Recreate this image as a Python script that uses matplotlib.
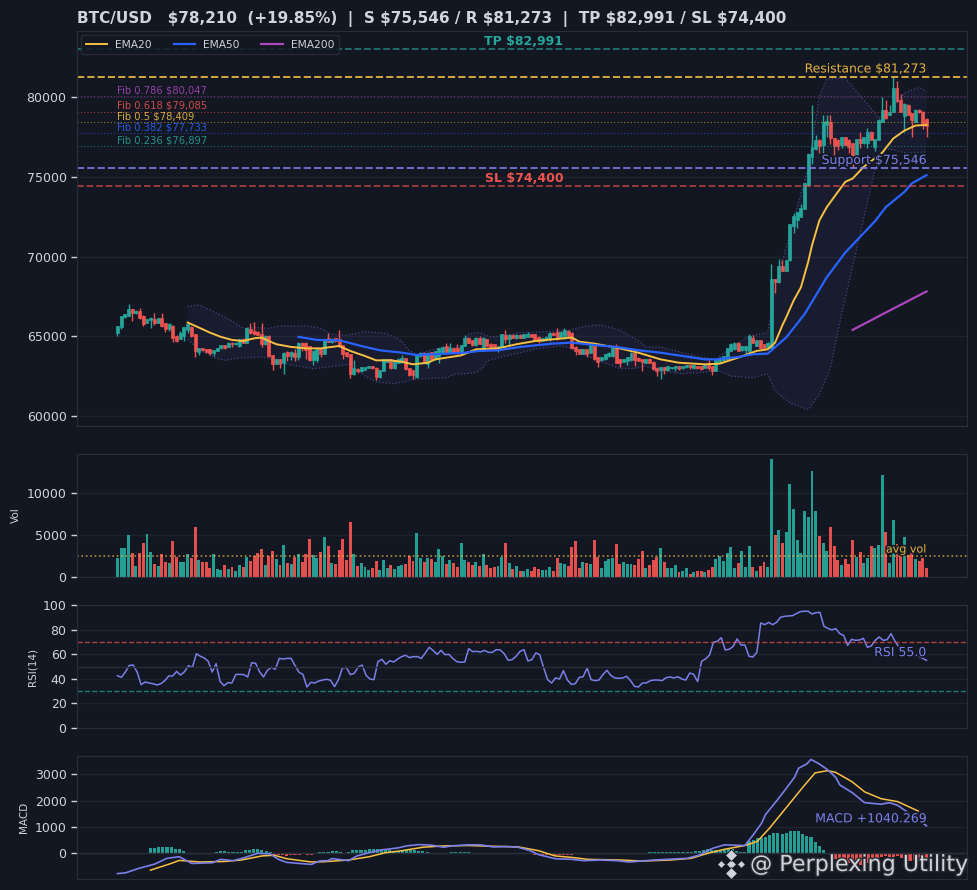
import numpy as np
import matplotlib
matplotlib.use("Agg")
import matplotlib.pyplot as plt
import matplotlib.patheffects as pe
from matplotlib.lines import Line2D

# Candles
opens = [65230,65550,66180,66300,66700,66430,66600,66300,65820,66000,
    66070,65860,66130,65800,65440,65650,65020,64850,65020,65380,
    65590,65130,64030,64240,64180,64180,63970,64080,64240,64430,
    64330,64600,64500,64390,64850,64600,65440,65340,65290,65170,
    64500,65020,63820,63280,63550,63340,64010,63760,63970,63700,
    64600,64600,64390,63490,63490,64240,63910,64870,64660,64870,
    64810,64430,64010,63870,62650,62950,62800,62900,63000,63110,
    63030,62440,62820,63400,63550,62980,63340,63360,63610,62980,
    62860,62440,63760,63970,63280,64010,63550,63760,63970,64390,
    63970,64240,64240,63930,64390,64920,64750,64430,64920,64180,
    64810,64540,64500,64120,64330,65080,64810,65080,64870,65080,
    64920,64960,65130,65130,64960,64710,64750,64810,65230,65290,
    64920,65020,65340,65230,64330,64180,63910,64180,63970,64500,
    63700,63490,63550,63760,63760,64390,63550,63400,63450,63490,
    63970,63660,63550,63340,63590,63400,63030,62860,63070,62860,
    62980,62980,63110,62980,63070,63190,62980,63130,63130,63030,
    63190,63130,62820,63400,63490,63550,64080,64180,64580,64120,
    64120,64080,64870,64390,64750,64500,64240,64290,68590,68380,
    69430,69120,69750,71890,72270,72480,73000,74470,76260,76720,
    77310,76990,78250,78460,77410,77310,76990,77470,77310,77100,
    76300,77350,77100,77100,77830,76840,77310,78460,79200,78880,
    79090,80560,79830,78780,79510,78990,78460,79200,79090,78610]
closes = [65630,66260,66390,66700,66430,66600,66130,65750,66070,66130,
    65860,66130,65650,65440,65750,64920,64700,65230,65550,65750,
    65020,64080,64240,64120,64030,63970,64120,64240,64430,64240,
    64600,64500,64600,64810,64600,65500,65230,65130,65080,64540,
    65020,63760,63280,63550,63280,63970,63760,64010,63700,64600,
    64390,64120,63490,64080,64180,63870,64810,64660,64850,64710,
    64390,63870,63760,62650,62980,62800,63070,63070,63130,62980,
    62440,62860,63550,63550,62980,63490,63550,63660,62920,62560,
    62560,63820,63970,63400,63950,63550,64080,64240,64330,63970,
    64290,63970,63930,64450,64920,64600,64430,64920,64540,64920,
    64390,64240,64180,64390,65130,64810,65080,64920,65080,64920,
    65130,65170,64960,64750,64710,64870,64960,65230,65080,64810,
    65290,65380,65020,64240,64080,63910,64180,63910,64500,63550,
    63400,63700,63870,63970,64290,63340,63340,63550,63700,63970,
    63490,63450,63400,63550,63340,62920,62820,63070,62860,63130,
    63070,63110,62920,63130,63190,63070,63190,62980,62920,63190,
    62980,62820,63490,63660,63760,64240,64540,64580,64080,64390,
    64390,65020,64600,64750,64290,64240,64600,68590,68380,69430,
    69120,69750,72010,72520,72790,73060,74580,76400,76840,77310,
    76930,78460,78520,77410,76930,76930,77470,76990,76840,76300,
    77350,77100,77470,77830,77310,77350,78570,79200,78670,79090,
    80560,79720,79090,79570,78880,78570,79200,79030,78360,78210]
highs = [65660,66280,66420,67000,66720,66640,66800,66350,66090,66200,
    66450,66160,66450,65820,65800,65680,65050,65300,65580,65780,
    65620,65160,64270,64280,64200,64220,64150,64270,64460,64460,
    64620,64650,64650,64850,64900,65600,65800,65900,65350,65800,
    65050,65050,63850,63570,63580,64000,64050,64100,64200,64620,
    64650,64650,64420,64110,64200,64280,64850,65200,64880,64900,
    65400,64480,64040,63900,63500,63000,63100,63100,63150,63140,
    63050,62890,63600,63580,63580,63520,63650,63800,63650,63010,
    62890,63850,64010,64000,64000,64040,64100,64270,64360,64600,
    64600,64260,64500,64480,65050,64950,64780,64950,65000,64950,
    64840,64570,64530,64420,65160,65400,65110,65110,65110,65110,
    65150,65250,65150,65150,64990,64900,65000,65260,65260,65500,
    65320,65500,65370,65260,64360,64210,64210,64210,64530,64530,
    63730,63730,63900,64000,64400,64500,63580,63580,63730,64000,
    64000,63680,63580,63580,63620,63430,63050,63100,63100,63160,
    63100,63130,63130,63150,63220,63220,63220,63160,63160,63220,
    63500,63160,63520,63690,63790,64270,64570,64610,64610,64420,
    64420,65120,65050,64770,64780,64530,64630,69550,68620,69860,
    69800,69780,72040,72700,72820,73300,74600,76430,79500,77600,
    77340,78900,78880,78900,77440,77340,77500,77500,77340,77130,
    77380,77800,77500,78050,77860,77380,78600,80000,79800,79500,
    81270,81000,80200,79600,79540,79020,79230,79230,79120,78700]
lows = [65000,65450,66150,66280,65950,66400,66080,65650,65800,65520,
    65700,65850,65600,65280,65350,64640,64650,64800,64700,65200,
    64980,63700,63800,64090,64000,63850,63750,64050,64200,64200,
    64300,64300,64450,64350,64560,64580,65150,65100,65050,64300,
    64450,63700,62900,63250,63000,62650,63450,63500,63450,63500,
    64100,63600,63450,63200,63400,63700,63900,64650,64600,64650,
    64350,63600,63700,62400,62600,62700,62750,62880,62980,62950,
    62250,62400,62800,63380,62950,62950,63300,63340,62880,62530,
    62300,62400,63730,63370,63000,63500,63500,63300,63950,63950,
    63950,63930,63900,63900,64370,64570,64400,64400,64500,64150,
    64370,64200,64150,64000,64300,64600,64400,64880,64850,64880,
    64900,64940,64930,64720,64600,64680,64730,64700,65050,64780,
    64890,64850,64950,64200,63800,63880,63880,63700,63940,63520,
    63100,63460,63520,63730,63730,63310,63050,63370,63200,63460,
    63150,63420,62800,63300,63310,62890,62500,62350,62650,62830,
    62950,62800,62890,62950,63040,62950,62950,62950,62890,63000,
    62900,62600,62790,63370,63460,63520,64050,64150,64050,64090,
    63900,63950,64570,64370,64260,64210,64210,64260,67700,68350,
    69090,69090,69720,71500,71800,72450,72980,74440,75800,76700,
    76500,76000,77500,77050,76100,76700,76800,76960,76500,75550,
    76270,76800,77070,76800,77280,76600,77280,78430,78640,78850,
    79060,79690,79060,77800,78850,77500,78430,79000,78000,77500]

volume = [2270,3460,3460,4970,2870,1310,2870,4060,5130,2990,
    1550,1310,2750,1790,1670,4300,2390,1790,1790,2750,
    2270,5970,2030,1790,1790,1070,2750,960,840,1430,
    960,1190,720,1430,1190,2390,1910,2510,2870,3340,
    1430,2510,3100,2150,1430,3820,1670,1550,2390,2750,
    1790,2750,4540,2630,2270,2990,4780,3700,1670,1550,
    3220,4540,2030,6570,2750,1310,1670,1190,840,1070,
    1910,840,2030,1070,1430,960,1310,1430,1550,2510,
    1910,5250,2270,1790,2270,2150,1790,3340,2510,1550,
    2030,1670,1190,4060,2030,1790,1430,1790,1310,2750,
    1430,1070,1190,1310,2390,4060,1670,960,1310,720,
    720,960,720,1190,960,840,840,1190,720,2270,
    1670,1550,1310,3580,4300,1070,1790,1670,1550,4420,
    2390,1070,1910,2150,2270,3940,1550,1790,1550,1550,
    1430,2150,3100,1070,1430,2030,2390,3460,1790,1070,
    1070,1430,600,720,1070,360,600,720,720,600,
    840,1190,2150,2510,1910,2870,3580,1070,1670,3100,
    1190,3700,1190,720,1310,1790,1190,13970,5010,5610,
    4060,5370,10980,8120,4420,2870,7880,7160,12540,7880,
    4900,4060,3100,5970,3700,2030,1430,2150,1550,4420,
    2390,2990,1670,2270,3700,3460,3820,12060,5370,1670,
    6810,3940,2630,4780,2630,2830,2150,1910,2270,1070]

# Moving averages: bar index and price at the points read
ema20_x = [19,22,25,28,31,34,37,39,41,43,47,51,55,58,60,63,67,70,74,77,80,84,86,93,97,103,108,113,118,123,125,129,135,141,147,152,159,163,168,173,176,178,180,181,183,185,187,188,190,192,195,197,199,202,207,210,213,216,219]
ema20 = [65860,65550,65230,64960,64770,64700,64870,64920,64700,64500,64330,64240,64240,64330,64390,64080,63760,63490,63490,63400,63240,63340,63550,63800,64180,64240,64500,64700,64810,64920,64660,64540,64290,63970,63550,63340,63240,63280,63660,64080,64180,64600,65700,66180,67230,68070,69700,70700,72270,73100,74050,74680,74890,75630,76510,77400,77890,78210,78250]
ema50_x = [49,54,60,66,71,77,81,84,86,94,98,103,109,114,118,123,129,135,141,147,153,159,162,168,172,176,181,186,188,192,197,205,208,213,215,219]
ema50 = [64960,64770,64750,64390,64120,63970,63820,63870,63870,63970,64080,64120,64330,64450,64540,64600,64450,64330,64120,63970,63760,63550,63550,63700,63870,63910,64920,66390,67160,68700,70250,72200,73100,74050,74580,75100]
ema200_x = [199,208,219]
ema200 = [65400,66490,67810]

# Bollinger band
bb_up_x = [19,22,27,31,34,37,41,44,51,55,58,62,67,73,77,79,81,84,88,93,95,98,101,104,109,116,122,127,131,136,141,143,147,153,157,162,166,171,176,178,183,187,190,192,197,200,204,206,209,213,217,219]
bb_up = [66870,66970,66430,65970,65500,65550,65500,65650,65650,65500,65130,65060,65290,65170,64700,64080,63870,64080,64290,64290,65130,65230,64960,65020,65230,65290,65380,65650,65710,65380,64710,64330,64330,63970,63720,63550,64290,65020,65230,68070,72270,75630,80040,81130,81190,80350,79300,78670,79090,80250,80600,80350]
bb_lo_x = [19,22,26,29,34,39,42,46,53,59,63,67,70,75,80,84,89,91,97,99,100,104,109,114,120,123,125,131,136,140,143,147,153,160,163,166,172,176,178,182,187,190,193,196,200,205,208,214,219]
bb_lo = [64810,64180,63660,63490,63660,63700,63550,63240,62960,63130,63240,62500,62140,62020,62290,62350,62400,62600,62710,63030,63450,63700,63970,64240,64390,64240,63970,63400,62980,62980,63130,62820,62650,62770,62820,62500,62400,62650,61560,60820,60400,61350,63030,66390,70380,75420,76780,76470,76570]

rsi = [42.5,41.2,45.5,50.9,51.2,45.3,35.2,37.4,36.6,36,35,36,38.5,42.3,42.3,46,43,45.8,50.7,49.3,
    60.4,58.3,56.9,54.2,45.5,52.3,37.9,34.4,36.9,36.6,43.6,43.6,43.4,41.5,53.1,52.6,45.8,41.5,46.9,49.3,
    47.7,56.6,56.1,56.6,56.6,50.7,45.3,43.6,33.3,37.1,36.6,38.2,39,39.6,38.8,33.6,39.3,48.8,49.3,43.4,
    44.4,49.6,51.2,42.8,39.8,39.3,53.9,55.8,51.8,54.7,53.7,56.1,58,59.1,57.2,58,58,56.6,61,65.6,
    62.9,59.9,63.1,59.6,59.9,56.4,53.9,53.4,53.7,64.5,62.1,62.3,61.8,63.1,61.5,61.5,63.7,63.4,60.4,55,
    55.6,58.3,62.3,63.7,54.5,55.6,61,59.6,48.8,39.3,36.6,40.7,39.8,46.6,39,35.5,36,41.2,41.7,48.8,
    39.3,38.5,39,43.4,46.9,42.8,40.7,40.4,40.7,42,38.5,33.9,33.3,36.6,36.6,38.5,39,39,38.5,40.9,
    41.5,40.7,41.7,39.8,39,44.7,43.6,37.7,54.2,56.1,59.3,69.6,70.5,73.4,63.4,64,66.4,72.4,67.5,67.5,
    58.3,57.7,61.5,85.4,84,85.9,84,85.9,90,90.8,91.1,91.3,93,94.6,94.9,94.9,92.7,93.8,94,82.7,
    81,79.7,80.8,76.7,75.3,67.2,72.1,71.3,71.5,72.9,65.6,66.7,71.3,74,71.3,71.8,76.7,70.5,65.9,66.4,
    63.7,61.5,60.2,58.3,56.6,55]

macd_x = [0,2,5,9,12,15,18,23,25,28,30,34,37,39,41,44,47,49,51,52,56,58,61,64,68,70,73,76,79,81,85,88,91,94,97,100,102,106,110,113,117,121,124,130,138,141,144,147,152,154,156,157,160,162,164,165,167,168,170,172,174,175,178,181,185,187,189,191,196]
macd = [-770,-740,-580,-410,-190,-130,-385,-360,-230,-280,-200,0,-25,-230,-345,-385,-420,-290,-280,-200,-280,-100,25,130,205,280,330,310,230,280,320,320,240,255,230,100,-50,-205,-230,-280,-255,-280,-330,-255,-190,-65,180,320,295,700,1130,1470,2050,2460,2880,3225,3390,3560,3390,3175,2880,2590,2300,1920,1860,1920,1820,1600,1040]
signal_x = [8,13,15,20,26,30,35,38,41,47,50,56,61,65,69,74,79,85,90,97,102,106,110,114,122,127,134,139,143,147,152,155,158,162,166,169,172,174,178,181,185,189,194]
signal = [-640,-385,-270,-330,-310,-255,-100,-75,-205,-330,-320,-255,-130,25,100,230,280,295,270,245,100,-100,-155,-230,-255,-295,-255,-190,0,150,295,450,960,1730,2500,3050,3135,3070,2710,2330,2070,1960,1600]
macd_hist = [205,205,245,245,245,245,165,165,90,0,
    -40,-40,-40,0,0,0,50,90,90,50,
    50,50,50,130,130,165,165,130,90,50,
    -60,-70,-80,-100,-80,-70,-60,0,-50,-80,
    -40,50,50,50,90,90,50,0,50,130,
    130,130,130,165,165,165,165,130,130,90,
    90,130,130,130,130,90,90,50,0,0,
    0,0,0,50,50,50,50,50,0,0,
    0,0,0,0,0,0,0,0,0,0,
    -20,-30,-40,-50,-60,-60,-70,-70,-70,-60,
    -70,-70,-60,0,-30,-30,0,0,0,0,
    0,0,0,0,0,0,0,0,0,0,
    0,40,40,40,40,40,40,40,40,40,
    40,50,70,90,130,165,130,130,130,130,
    165,165,90,50,40,450,490,580,580,600,
    700,770,780,740,770,850,860,830,730,670,
    610,420,280,130,0,-150,-200,-250,-300,-350,
    -390,-420,-440,-400,-370,-250,-200,-150,-100,-130,
    -130,-100,-180,-200,-300,-250,-250,-250,-250]

fib_names = ["0.786", "0.618", "0.5", "0.382", "0.236"]
fib_levels = [80047, 79085, 78409, 77733, 76897]
avg_vol = 2510

BG = "#131722"
GRID = "#1e222d"
SPINE = "#2a2e39"
TEXT = "#d1d4dc"
GREEN = "#26a69a"
RED = "#ef5350"
YELLOW = "#f7c043"
BLUE = "#2962ff"
PURPLE = "#ab47bc"
INDIGO = "#7b7fe8"
fib_colors = [PURPLE, RED, YELLOW, BLUE, GREEN]

W, H = 978, 890
fig = plt.figure(figsize=(W / 100, H / 100), dpi=100, facecolor=BG)


def panel(top, bottom):
    ax = fig.add_axes([77 / W, 1 - bottom / H, 890 / W, (bottom - top) / H], facecolor=BG)
    ax.grid(True, axis="y", color=GRID, linewidth=1)
    ax.set_axisbelow(True)
    ax.set_xticks([])
    ax.tick_params(axis="y", colors=TEXT, labelsize=9, length=4, width=1)
    for s in ax.spines.values():
        s.set_color(SPINE)
    return ax


halo = [pe.withStroke(linewidth=2.5, foreground=BG)]

opens = np.array(opens)
closes = np.array(closes)
x = np.arange(len(closes))
up = closes >= opens
colors = np.where(up, GREEN, RED)
x_lim = (-0.05 * (len(x) - 1), 1.05 * (len(x) - 1))

# Price panel
ax = panel(31, 426)
ax.fill(bb_up_x + bb_lo_x[::-1], bb_up + bb_lo[::-1], color="#7c7cff", alpha=0.055, linewidth=0)
ax.plot(bb_up_x, bb_up, color="#6a6ac8", alpha=0.55, linewidth=0.9, linestyle=":")
ax.plot(bb_lo_x, bb_lo, color="#6a6ac8", alpha=0.55, linewidth=0.9, linestyle=":")
ax.vlines(x, lows, highs, colors=colors, linewidth=1.0)
ax.bar(x, np.abs(closes - opens), bottom=np.minimum(opens, closes), width=0.8, color=colors,
       edgecolor=colors, linewidth=0.5)
ax.plot(ema20_x, ema20, color=YELLOW, linewidth=1.4, label="EMA20")
ax.plot(ema50_x, ema50, color=BLUE, linewidth=1.6, label="EMA50")
ax.plot(ema200_x, ema200, color=PURPLE, linewidth=1.6, label="EMA200")

ax.axhline(82991, color=GREEN, linestyle="--", linewidth=1.3, alpha=0.65)
ax.axhline(81273, color=YELLOW, linestyle="--", linewidth=1.4, alpha=0.85)
ax.axhline(75546, color=INDIGO, linestyle="--", linewidth=1.4, alpha=0.85)
ax.axhline(74400, color=RED, linestyle="--", linewidth=1.3, alpha=0.65)
for name, lvl, col in zip(fib_names, fib_levels, fib_colors):
    ax.axhline(lvl, color=col, linestyle=(0, (1, 2)), linewidth=0.8, alpha=0.6)
    ax.text(0, lvl + 60, "Fib %s $%s" % (name, format(lvl, ",")), color=col, fontsize=7.2,
            alpha=0.85, va="bottom", ha="left")

ax.text(110, 83060, "TP $82,991", color=GREEN, fontsize=9, fontweight="bold", ha="center", va="bottom")
ax.text(110, 74470, "SL $74,400", color=RED, fontsize=9, fontweight="bold", ha="center", va="bottom")
ax.text(219, 81350, "Resistance $81,273", color=YELLOW, fontsize=8.9, alpha=0.9, ha="right", va="bottom",
        path_effects=halo)
ax.text(219, 75620, "Support $75,546", color=INDIGO, fontsize=9, ha="right", va="bottom", path_effects=halo)

ax.set_xlim(x_lim)
ax.set_ylim(59373, 84138)
ax.set_yticks([60000, 65000, 70000, 75000, 80000])
leg = ax.legend(loc="upper left", ncol=3, fontsize=7.7, frameon=True, facecolor=BG, edgecolor=SPINE,
                labelcolor=TEXT, borderaxespad=0.4, columnspacing=2.0)
leg.get_frame().set_alpha(0.85)

fig.text(77 / W, 1 - 23 / H, "BTC/USD   $78,210  (+19.85%)  |  S $75,546 / R $81,273  |  TP $82,991 / SL $74,400",
         color=TEXT, fontsize=11, fontweight="bold", ha="left", va="baseline")

# Volume panel
ax = panel(454, 577)
ax.bar(x, volume, width=0.8, color=colors, alpha=0.95)
ax.axhline(avg_vol, color=YELLOW, linestyle=":", linewidth=1.2, alpha=0.7)
ax.text(219, avg_vol + 150, "avg vol", color=YELLOW, fontsize=8, alpha=0.9, ha="right", va="bottom", path_effects=halo)
ax.set_xlim(x_lim)
ax.set_ylim(0, 14600)
ax.set_yticks([0, 5000, 10000])
ax.set_ylabel("Vol", color=TEXT, fontsize=7.5)

# RSI panel
ax = panel(605, 728)
rsi_x = np.arange(len(rsi))
ax.plot(rsi_x, rsi, color=INDIGO, linewidth=1.1)
ax.axhline(70, color=RED, linestyle="--", linewidth=1, alpha=0.7)
ax.axhline(30, color=GREEN, linestyle="--", linewidth=1, alpha=0.7)
ax.axhline(50, color=SPINE, linewidth=1)
ax.text(len(rsi) - 1, 56, "RSI 55.0", color=INDIGO, fontsize=9, ha="right", va="bottom", path_effects=halo)
ax.set_xlim(-0.05 * (len(rsi) - 1), 1.05 * (len(rsi) - 1))
ax.set_ylim(0, 100)
ax.set_yticks([0, 20, 40, 60, 80, 100])
ax.set_ylabel("RSI(14)", color=TEXT, fontsize=7.5)

# MACD panel
ax = panel(756, 879)
hist_x = np.arange(8, 8 + len(macd_hist))
hist_colors = [GREEN if v >= 0 else RED for v in macd_hist]
ax.bar(hist_x, macd_hist, width=0.75, color=hist_colors, alpha=0.95)
ax.axhline(0, color=SPINE, linewidth=1)
ax.plot(signal_x, signal, color=YELLOW, linewidth=1.1)
ax.plot(macd_x, macd, color=INDIGO, linewidth=1.2)
ax.text(196, 1060, "MACD +1040.269", color=INDIGO, fontsize=9, ha="right", va="bottom", path_effects=halo)
ax.set_xlim(-0.05 * 196, 1.05 * 196)
ax.set_ylim(-975, 3690)
ax.set_yticks([0, 1000, 2000, 3000])
ax.set_ylabel("MACD", color=TEXT, fontsize=7.5)

# Watermark with its diamond logo
wm = "#cfd2d8"
logo = [(731, 864, 5), (731, 855, 6.5), (731, 873, 6.5), (720.5, 864, 4.5), (741.5, 864, 4.5)]
for px, py, size in logo:
    fig.add_artist(Line2D([px / W], [1 - py / H], marker="D", markersize=size, color=wm, linestyle="None",
                          markeredgecolor=BG, markeredgewidth=0.6, transform=fig.transFigure))
fig.text(750 / W, 1 - 865 / H, "@ Perplexing Utility", color=wm, fontsize=16, ha="left", va="center",
         path_effects=[pe.withStroke(linewidth=2, foreground="#2a2d33")])

fig.savefig("out.png", dpi=100, facecolor=BG)
